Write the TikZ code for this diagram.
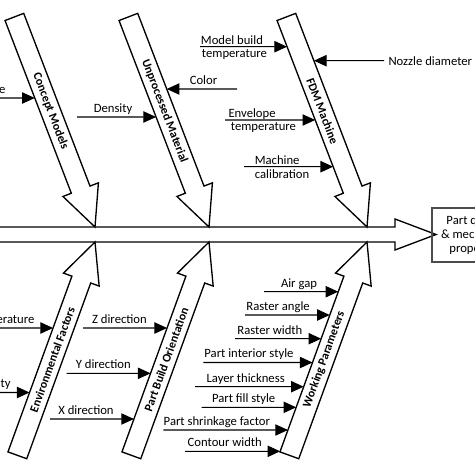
\documentclass[tikz,border=0pt]{standalone}
\usepackage{fontspec}
\setmainfont{Carlito}
\usetikzlibrary{arrows.meta}

\begin{document}
\begin{tikzpicture}[
    x=0.75pt, y=-0.75pt,
    bone/.style={draw, fill=white, line width=1pt},
    bonelabel/.style={font=\fontsize{9}{11}\selectfont\bfseries, transform shape, inner sep=0pt},
    cause/.style={-{Triangle[length=9.5pt, width=8.5pt]}, line width=0.8pt},
    lbl/.style={font=\fontsize{9.5}{11}\selectfont, text depth=0pt, inner sep=3pt},
    lbl2/.style={lbl, inner sep=1.5pt}
]
\useasboundingbox (0,0) rectangle (474,474);

% Spine and effect box
\draw[bone] (-10,227) -- (395,227) -- (395,219) -- (436,234.5) -- (395,250) -- (395,242) -- (-10,242) -- cycle;
\node[draw=black!70, line width=0.8pt, minimum width=66pt, minimum height=40.5pt, align=center, font=\fontsize{9.5}{10.5}\selectfont] (pq) at (476,235) {Part quality\\\& mechanical\\properties};

% Upper bones
\begin{scope}[shift={(95,227)}, rotate=-69]
  \draw[bone] (-225,10) -- (-40,10) -- (-40,19) -- (0,0) -- (-40,-19) -- (-40,-10) -- (-225,-10) -- cycle;
  \node[bonelabel] (cm) at (-124,0) {Concept Models};
  \coordinate (cm-l1) at (-225,10); \coordinate (cm-l2) at (-40,10);
\end{scope}
\begin{scope}[shift={(209,227)}, rotate=-69]
  \draw[bone] (-225,10) -- (-40,10) -- (-40,19) -- (0,0) -- (-40,-19) -- (-40,-10) -- (-225,-10) -- cycle;
  \node[bonelabel] (um) at (-124,0) {Unprocessed Material};
  \coordinate (um-l1) at (-225,10); \coordinate (um-l2) at (-40,10);
  \coordinate (um-r1) at (-225,-10); \coordinate (um-r2) at (-40,-10);
\end{scope}
\begin{scope}[shift={(367,227)}, rotate=-69]
  \draw[bone] (-225,10) -- (-40,10) -- (-40,19) -- (0,0) -- (-40,-19) -- (-40,-10) -- (-225,-10) -- cycle;
  \node[bonelabel] (fdm) at (-124,0) {FDM Machine};
  \coordinate (fdm-l1) at (-225,10); \coordinate (fdm-l2) at (-40,10);
  \coordinate (fdm-r1) at (-225,-10); \coordinate (fdm-r2) at (-40,-10);
\end{scope}

% Lower bones
\begin{scope}[shift={(95,242)}, rotate=70]
  \draw[bone] (-227,10) -- (-40,10) -- (-40,19) -- (0,0) -- (-40,-19) -- (-40,-10) -- (-227,-10) -- cycle;
  \node[bonelabel] (ef) at (-125,0) {Environmental Factors};
  \coordinate (ef-l1) at (-227,-10); \coordinate (ef-l2) at (-40,-10);
\end{scope}
\begin{scope}[shift={(209,242)}, rotate=70]
  \draw[bone] (-227,10) -- (-40,10) -- (-40,19) -- (0,0) -- (-40,-19) -- (-40,-10) -- (-227,-10) -- cycle;
  \node[bonelabel] (pbo) at (-125,0) {Part Build Orientation};
  \coordinate (pbo-l1) at (-227,-10); \coordinate (pbo-l2) at (-40,-10);
\end{scope}
\begin{scope}[shift={(367,242)}, rotate=70]
  \draw[bone] (-227,10) -- (-40,10) -- (-40,19) -- (0,0) -- (-40,-19) -- (-40,-10) -- (-227,-10) -- cycle;
  \node[bonelabel] (wp) at (-125,0) {Working Parameters};
  \coordinate (wp-l1) at (-227,-10); \coordinate (wp-l2) at (-40,-10);
\end{scope}

% Causes, upper half
\coordinate (c-e) at (0,98);
\coordinate (c-den) at (77,117);
\coordinate (c-col) at (237,89);
\coordinate (c-mbt) at (200,46.7);
\coordinate (c-noz) at (384,60.7);
\coordinate (c-env) at (225,120);
\coordinate (c-mc) at (244,166.7);

\draw[cause] (c-e) -- node[lbl, anchor=south east, pos=0.29] {e} (intersection of c-e--c-e -| pq and cm-l1--cm-l2);
\draw[cause] (c-den) -- node[lbl, above, pos=0.456] {Density} (intersection of c-den--c-den -| pq and um-l1--um-l2);
\draw[cause] (c-col) -- node[lbl, above, pos=0.477] {Color} (intersection of c-col--c-col -| pq and um-r1--um-r2);
\draw[cause] (c-mbt) -- node[lbl2, above, pos=0.367] {Model build} node[lbl2, below, pos=0.396] {temperature} (intersection of c-mbt--c-mbt -| pq and fdm-l1--fdm-l2);
\draw[cause] (c-noz) node[lbl, right] {Nozzle diameter} -- (intersection of c-noz--c-noz -| cm and fdm-r1--fdm-r2);
\draw[cause] (c-env) -- node[lbl2, above, pos=0.30] {Envelope} node[lbl2, below, pos=0.426] {temperature} (intersection of c-env--c-env -| pq and fdm-l1--fdm-l2);
\draw[cause] (c-mc) -- node[lbl2, above, pos=0.372] {Machine} node[lbl2, below, pos=0.427] {calibration} (intersection of c-mc--c-mc -| pq and fdm-l1--fdm-l2);

% Causes, lower half
\coordinate (c-tmp) at (0,328);
\coordinate (c-hum) at (0,392.5);
\coordinate (c-z) at (83,328);
\coordinate (c-y) at (66.7,373.3);
\coordinate (c-x) at (50,419);
\coordinate (c-air) at (264,291.7);
\coordinate (c-ra) at (245,315);
\coordinate (c-rw) at (235,338.7);
\coordinate (c-pis) at (203.3,362.5);
\coordinate (c-lt) at (195,386.7);
\coordinate (c-pfs) at (201.7,407.3);
\coordinate (c-psf) at (163.3,430);
\coordinate (c-cw) at (185,451.3);

\draw[cause] (c-tmp) -- node[lbl, anchor=south east, pos=0.734] {Temperature} (intersection of c-tmp--c-tmp -| pq and ef-l1--ef-l2);
\draw[cause] (c-hum) -- node[lbl, anchor=south east, pos=0.51] {Humidity} (intersection of c-hum--c-hum -| pq and ef-l1--ef-l2);
\draw[cause] (c-z) -- node[lbl, above, pos=0.434] {Z direction} (intersection of c-z--c-z -| pq and pbo-l1--pbo-l2);
\draw[cause] (c-y) -- node[lbl, above, pos=0.436] {Y direction} (intersection of c-y--c-y -| pq and pbo-l1--pbo-l2);
\draw[cause] (c-x) -- node[lbl, above, pos=0.429] {X direction} (intersection of c-x--c-x -| pq and pbo-l1--pbo-l2);
\draw[cause] (c-air) -- node[lbl, above, pos=0.471] {Air gap} (intersection of c-air--c-air -| pq and wp-l1--wp-l2);
\draw[cause] (c-ra) -- node[lbl, above, pos=0.39] {Raster angle} (intersection of c-ra--c-ra -| pq and wp-l1--wp-l2);
\draw[cause] (c-rw) -- node[lbl, above, pos=0.405] {Raster width} (intersection of c-rw--c-rw -| pq and wp-l1--wp-l2);
\draw[cause] (c-pis) -- node[lbl, above, pos=0.418] {Part interior style} (intersection of c-pis--c-pis -| pq and wp-l1--wp-l2);
\draw[cause] (c-lt) -- node[lbl, above, pos=0.466] {Layer thickness} (intersection of c-lt--c-lt -| pq and wp-l1--wp-l2);
\draw[cause] (c-pfs) -- node[lbl, above, pos=0.444] {Part fill style} (intersection of c-pfs--c-pfs -| pq and wp-l1--wp-l2);
\draw[cause] (c-psf) -- node[lbl, above, pos=0.43] {Part shrinkage factor} (intersection of c-psf--c-psf -| pq and wp-l1--wp-l2);
\draw[cause] (c-cw) -- node[lbl, above, pos=0.418] {Contour width} (intersection of c-cw--c-cw -| pq and wp-l1--wp-l2);

\end{tikzpicture}
\end{document}
